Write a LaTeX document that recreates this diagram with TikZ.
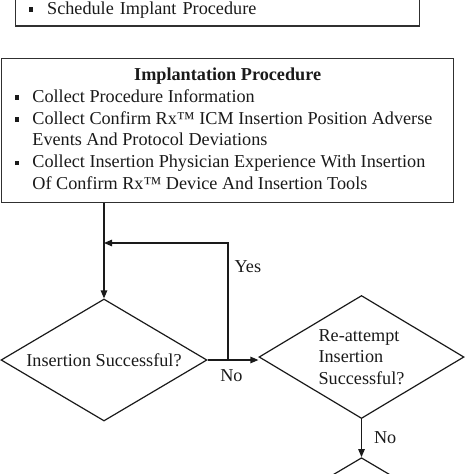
\documentclass[tikz,border=0pt]{standalone}
\usepackage{fontspec}
\setmainfont{Liberation Serif}
\usetikzlibrary{arrows.meta, calc, positioning, shapes.geometric}
\definecolor{fInk}{HTML}{1A1A1A}
\definecolor{fEdge}{HTML}{303030}
\newcommand{\sqb}{\rule[0.3ex]{4.5pt}{4.5pt}}

\begin{document}
\begin{tikzpicture}[x=1pt, y=-1pt, >={Triangle[length=8pt, width=6.5pt]},
  font=\fontsize{18.2}{21.8}\selectfont,
  stepbox/.style={draw=fEdge, line width=1.3pt, rectangle, text=fInk},
  decision/.style={draw=fInk, line width=1.2pt, diamond, aspect=1.7, inner sep=0pt, text=fInk,
                   minimum width=206pt, minimum height=122pt},
  flow/.style={->, draw=fInk, line width=1.2pt},
  lbl/.style={inner sep=0pt, text=fInk}]
  \useasboundingbox (0,0) rectangle (474,474);
  % boxes
  \node[stepbox, text width=378pt, inner xsep=13pt, inner ysep=7.5pt, align=left, anchor=south west]
    (sched) at (15,26.5) {\sqb\hspace{14pt}Schedule Implant Procedure};
  \node[stepbox, inner sep=0pt, minimum width=452pt, minimum height=144pt, anchor=north west]
    (impl) at (1,58) {%
    \begin{tabular}{@{}l@{\hspace{13pt}}l@{\hspace{8pt}}}
      \multicolumn{2}{c}{\textbf{Implantation Procedure}}\\
      \sqb & Collect Procedure Information\\
      \sqb & Collect Confirm Rx™ ICM Insertion Position Adverse\\
           & Events And Protocol Deviations\\
      \sqb & Collect Insertion Physician Experience With Insertion\\
           & Of Confirm Rx™ Device And Insertion Tools
    \end{tabular}};
  % decisions
  \node[decision] (ins) at (104,360) {Insertion Successful?};
  \node[decision, minimum width=205pt, minimum height=123pt, align=left]
    (re) at (361.5,357) {Re-attempt\\Insertion\\Successful?};
  \node[decision] (final) [below=38pt of re] {};
  % connectors
  \coordinate (turn) at (228,243);
  \draw[flow] (ins.north |- impl.south) -- (ins.north);
  \draw[flow] (ins.east) -- (ins.east -| re.west) node[lbl, pos=0.47, below=9pt] {No};
  \draw[flow] (turn |- ins.east) -- (turn) node[lbl, pos=0.8, right=6pt] {Yes} -- (turn -| ins.north);
  \draw[flow] (re.south) -- (final.north) node[lbl, midway, right=12pt] {No};
\end{tikzpicture}
\end{document}
